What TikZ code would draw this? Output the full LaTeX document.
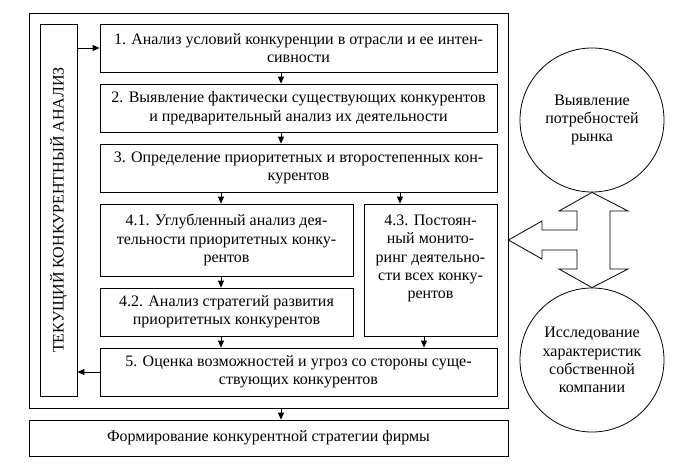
\documentclass[tikz,border=0pt]{standalone}
\usepackage{fontspec}
\setmainfont{Liberation Serif}
\usetikzlibrary{arrows.meta,positioning}
\tikzset{
    blk/.style={draw, line width=0.8pt, align=center, inner sep=0pt}, % boxes of the scheme
    circ/.style={draw, circle, line width=0.8pt, minimum size=144pt, align=center, inner sep=0pt}, % outer factors
    arr/.style={line width=0.8pt, -{Triangle[length=7pt,width=6pt]}}, % small filled arrow heads
}

\begin{document}
\begin{tikzpicture}[x=1pt,y=-1pt,font=\rmfamily\fontsize{16}{18.3}\selectfont]
  \useasboundingbox (0,0) rectangle (692,469);

  % frame round the whole analysis
  \node[blk, minimum width=479, minimum height=395] (frame) at (268.5,210.5) {};
  \node[blk, rotate=90, minimum width=372, minimum height=37] (lbox) at (58.5,210) {ТЕКУЩИЙ КОНКУРЕНТНЫЙ АНАЛИЗ};

  \node[blk, minimum width=397, minimum height=48] (b1) at (298.5,48)
      {1. Анализ условий конкуренции в отрасли и ее интен-\\сивности};
  \node[blk, minimum width=397, minimum height=48] (b2) at (298.5,108)
      {2. Выявление фактически существующих конкурентов\\и предварительный анализ их деятельности};
  \node[blk, minimum width=397, minimum height=48] (b3) at (298.5,168)
      {3. Определение приоритетных и второстепенных кон-\\курентов};
  \node[blk, minimum width=253, minimum height=72] (b41) at (226.5,240)
      {4.1. Углубленный анализ дея-\\тельности приоритетных конку-\\рентов};
  \node[blk, minimum width=253, minimum height=48] (b42) at (226.5,312)
      {4.2. Анализ стратегий развития\\приоритетных конкурентов};
  \node[blk, minimum width=133, minimum height=132] (b43) at (430.5,270) {};
  \node[align=center, inner sep=0pt, below=11pt of b43.north] (t43)
      {4.3. Постоян-\\ный монито-\\ринг деятельно-\\сти всех конку-\\рентов};
  \node[blk, minimum width=397, minimum height=48] (b5) at (298.5,372)
      {5. Оценка возможностей и угроз со стороны суще-\\ствующих конкурентов};
  \node[blk, minimum width=479, minimum height=36] (strat) at (268.5,438)
      {Формирование конкурентной стратегии фирмы};

  \node[circ] (need) at (592,120) {Выявление\\потребностей\\рынка};
  \node[circ] (own)  at (592,360) {Исследование\\характеристик\\собственной\\компании};

  % connectors
  \draw[arr] (lbox.south |- b1) -- (b1.west);
  \draw[arr] (b1.south -| 281,0) -- (b2.north -| 281,0);
  \draw[arr] (b2.south -| 281,0) -- (b3.north -| 281,0);
  \draw[arr] (b3.south -| 221,0) -- (b41.north -| 221,0);
  \draw[arr] (b3.south -| 400,0) -- (b43.north -| 400,0);
  \draw[arr] (b41.south -| 221,0) -- (b42.north -| 221,0);
  \draw[arr] (b42.south -| 221,0) -- (b5.north -| 221,0);
  \draw[arr] (b43.south -| 424,0) -- (b5.north -| 424,0);
  \draw[arr] (b5.west) -- (lbox.south |- b5);
  \draw[arr] (frame.south -| 281,0) -- (strat.north -| 281,0);

  % three-headed block arrow between the circles and the frame
  \draw[line width=0.8pt] (need.south) -- (628,211) -- (610,211) -- (610,269) -- (628,269)
    -- (own.north) -- (559,269) -- (577,269) -- (577,250) -- (542,250) -- (542,259)
    -- (frame.east |- 0,240) -- (542,221) -- (542,230) -- (577,230) -- (577,211)
    -- (559,211) -- cycle;
\end{tikzpicture}
\end{document}
